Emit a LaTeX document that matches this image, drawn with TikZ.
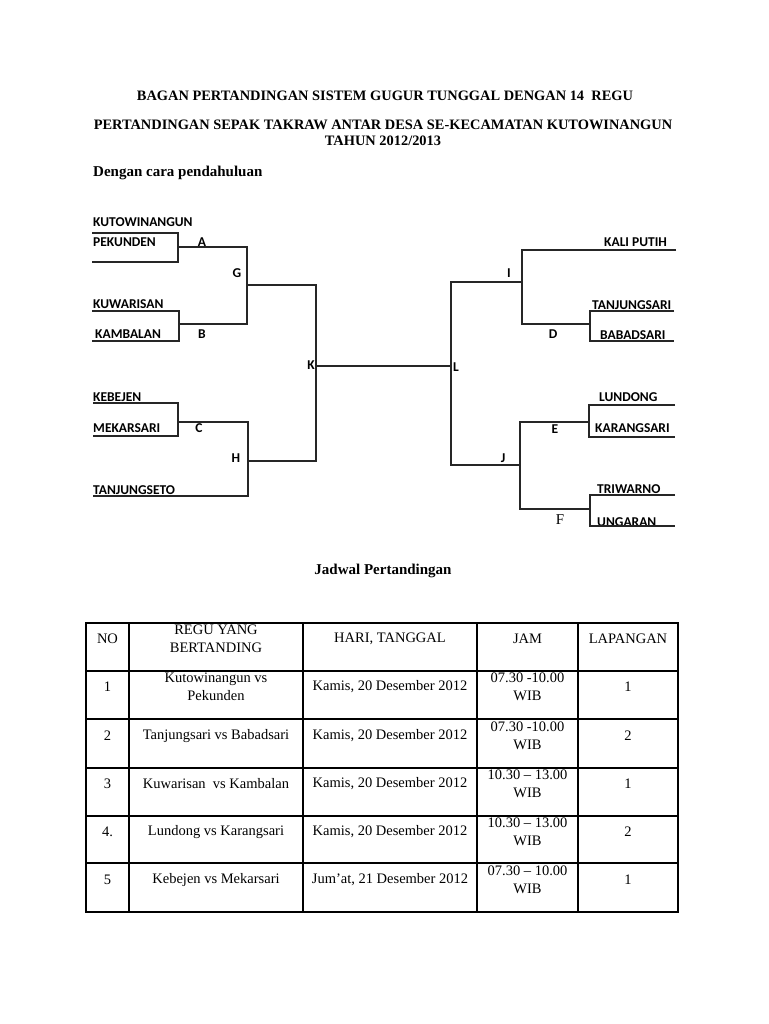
\documentclass[tikz,border=0pt]{standalone}
\usepackage{fontspec}
\setmainfont{Liberation Serif}
\newfontfamily\calibri{Carlito}
\usetikzlibrary{positioning}
\tikzset{team/.style={font=\calibri\bfseries\fontsize{13.5}{16}\selectfont, anchor=west, inner sep=0pt}}
\tikzset{rnd/.style={font=\calibri\bfseries\fontsize{13.5}{16}\selectfont, inner sep=0pt}}
\tikzset{bline/.style={line width=1.1pt, draw=black!85}}
\tikzset{tline/.style={line width=1.3pt}}
\tikzset{cell/.style={font=\fontsize{14.5}{18}\selectfont, align=center, inner sep=0pt}}
\tikzset{ttl/.style={font=\bfseries\fontsize{15}{17}\selectfont, inner sep=0pt}}
\tikzset{head/.style={ttl, font=\bfseries\fontsize{14.4}{17}\selectfont}}

\begin{document}
\begin{tikzpicture}[x=1pt, y=-1pt]
  \fill[white] (0,0) rectangle (768,1024);
  \useasboundingbox (0,0) rectangle (768,1024);

  % titles
  \node[head] (title1) at (385,96) {BAGAN PERTANDINGAN SISTEM GUGUR TUNGGAL DENGAN 14~ REGU};
  \node[head] (title2) at (383,125) {PERTANDINGAN SEPAK TAKRAW ANTAR DESA SE-KECAMATAN KUTOWINANGUN};
  \node[head] (title3) at (383,141) {TAHUN 2012/2013};
  \node[ttl, anchor=west] (subtitle) at (93,173) {Dengan cara pendahuluan};

  % teams, left side
  \node[team] (kuto) at (93,222) {KUTOWINANGUN};
  \node[team] (pekun) at (93,242) {PEKUNDEN};
  \node[team] (kuwar) at (93,304) {KUWARISAN};
  \node[team] (kamba) at (95,334) {KAMBALAN};
  \node[team] (kebej) at (93,397) {KEBEJEN};
  \node[team] (mekar) at (93,428) {MEKARSARI};
  \node[team] (tjseto) at (93,490) {TANJUNGSETO};

  % teams, right side
  \node[team] (kaliputih) at (604,242) {KALI PUTIH};
  \node[team] (tjsari) at (592,305) {TANJUNGSARI};
  \node[team] (babad) at (600,335) {BABADSARI};
  \node[team] (lundong) at (599,397) {LUNDONG};
  \node[team] (karang) at (595,428) {KARANGSARI};
  \node[team] (triwarno) at (597,489) {TRIWARNO};
  \node[team] (ungaran) at (597,522) {UNGARAN};

  % match junctions
  \coordinate (pA) at (178,247);
  \coordinate (pB) at (179,324);
  \coordinate (pG) at (247,285);
  \coordinate (pC) at (178,422);
  \coordinate (pH) at (248,461);
  \coordinate (pK) at (316,366);
  \coordinate (pL) at (451,366);
  \coordinate (pI) at (522,282);
  \coordinate (pD) at (590,324);
  \coordinate (pJ) at (520,465);
  \coordinate (pE) at (589,422);
  \coordinate (pF) at (590,509);

  % match labels
  \node[rnd] (lA) at (202,242) {A};
  \node[rnd] (lB) at (202,334) {B};
  \node[rnd] (lG) at (237,273) {G};
  \node[rnd] (lC) at (199,428) {C};
  \node[rnd] (lH) at (236,458) {H};
  \node[rnd] (lK) at (311,365) {K};
  \node[rnd] (lL) at (456,367) {L};
  \node[rnd] (lI) at (509,273) {I};
  \node[rnd] (lD) at (553,334) {D};
  \node[rnd] (lE) at (555,429) {E};
  \node[rnd] (lJ) at (503,458) {J};
  \node[font=\fontsize{15}{17}\selectfont, inner sep=0pt] (lF) at (560,520) {F};

  % left bracket
  \draw[bline] (92,233) -| (pA) |- (92,262);
  \draw[bline] (92,311) -| (pB) |- (92,341);
  \draw[bline] (93,403) -| (pC) |- (93,436);
  \draw[bline] (pA) -| (pG) |- (pB);
  \draw[bline] (pC) -| (pH) |- (93,496);
  \draw[bline] (pG) -| (pK) |- (pH);

  % final
  \draw[bline] (pK) -- (pL);

  % right bracket
  \draw[bline] (pI) -| (pL) |- (pJ);
  \draw[bline] (676,250) -| (pI) |- (pD);
  \draw[bline] (674,311) -| (pD) |- (674,341);
  \draw[bline] (pE) -| (pJ) |- (pF);
  \draw[bline] (675,405) -| (pE) |- (675,437);
  \draw[bline] (675,495) -| (pF) |- (675,526);

  % schedule
  \node[ttl] (jadwal) at (383,571) {Jadwal Pertandingan};

  \draw[tline] (86,623) rectangle (678,912);
  \foreach \y in {671,719,768,816,863}
    \draw[tline] (86,\y) -- (678,\y);
  \foreach \x in {129,303,477,578}
    \draw[tline] (\x,623) -- (\x,912);

  \node[cell] (h1) at (107.5,639) {NO};
  \node[cell] (h2) at (216,639) {REGU YANG\\BERTANDING};
  \node[cell] (h3) at (390,639) {HARI, TANGGAL};
  \node[cell] (h4) at (527.5,639) {JAM};
  \node[cell] (h5) at (628,639) {LAPANGAN};

  \node[cell] (r1no) at (107.5,687) {1};
  \node[cell] (r1regu) at (216,687) {Kutowinangun vs\\Pekunden};
  \node[cell] (r1hari) at (390,687) {Kamis, 20 Desember 2012};
  \node[cell] (r1jam) at (527.5,687) {07.30 -10.00\\WIB};
  \node[cell] (r1lap) at (628,687) {1};

  \node[cell] (r2no) at (107.5,736) {2};
  \node[cell] (r2regu) at (216,736) {Tanjungsari vs Babadsari};
  \node[cell] (r2hari) at (390,736) {Kamis, 20 Desember 2012};
  \node[cell] (r2jam) at (527.5,736) {07.30 -10.00\\WIB};
  \node[cell] (r2lap) at (628,736) {2};

  \node[cell] (r3no) at (107.5,784) {3};
  \node[cell] (r3regu) at (216,784) {Kuwarisan~ vs Kambalan};
  \node[cell] (r3hari) at (390,784) {Kamis, 20 Desember 2012};
  \node[cell] (r3jam) at (527.5,784) {10.30 – 13.00\\WIB};
  \node[cell] (r3lap) at (628,784) {1};

  \node[cell] (r4no) at (107.5,832) {4.};
  \node[cell] (r4regu) at (216,832) {Lundong vs Karangsari};
  \node[cell] (r4hari) at (390,832) {Kamis, 20 Desember 2012};
  \node[cell] (r4jam) at (527.5,832) {10.30 – 13.00\\WIB};
  \node[cell] (r4lap) at (628,832) {2};

  \node[cell] (r5no) at (107.5,880) {5};
  \node[cell] (r5regu) at (216,880) {Kebejen vs Mekarsari};
  \node[cell] (r5hari) at (390,880) {Jum’at, 21 Desember 2012};
  \node[cell] (r5jam) at (527.5,880) {07.30 – 10.00\\WIB};
  \node[cell] (r5lap) at (628,880) {1};
\end{tikzpicture}
\end{document}
